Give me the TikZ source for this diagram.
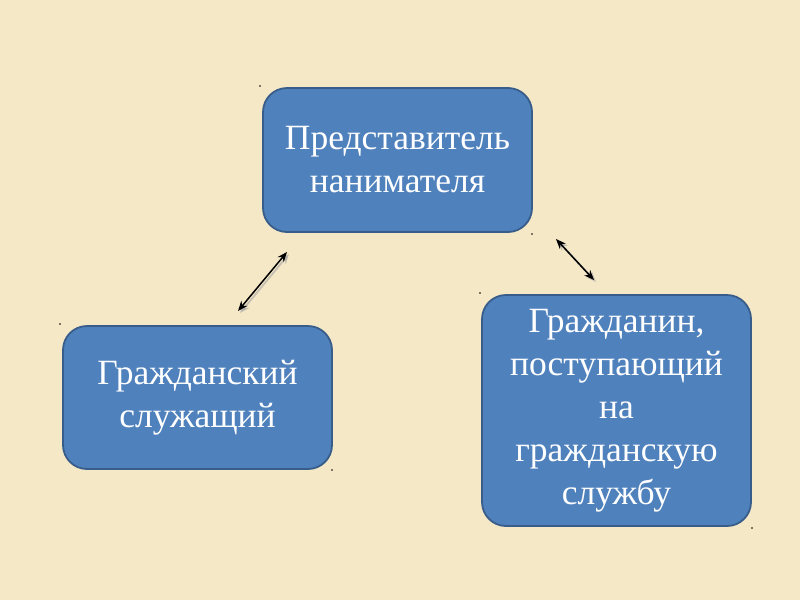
\documentclass[tikz,border=0pt]{standalone}
\usepackage{fontspec}
\setmainfont{Liberation Serif}
\usetikzlibrary{arrows.meta}
\definecolor{bg}{HTML}{F5E8C6}
\definecolor{boxfill}{HTML}{4F81BD}
\definecolor{boxline}{HTML}{385D8A}
\tikzset{
  box/.style={draw=boxline, line width=1.8pt, fill=boxfill, rounded corners=24pt,
    text=white, align=center, font=\fontsize{35.5}{43}\selectfont, inner sep=0pt},
  dbl/.style={{Stealth[length=10pt,width=8pt]}-{Stealth[length=10pt,width=8pt]}, line width=1.5pt, black},
  dblsh/.style={{Stealth[length=10pt,width=8pt]}-{Stealth[length=10pt,width=8pt]}, line width=1.8pt, black!35, opacity=0.6},
  handle/.style={fill=black, circle, inner sep=0pt, minimum size=1.6pt}
}
\begin{document}
\begin{tikzpicture}[x=1pt,y=-1pt]
\fill[bg] (0,0) rectangle (800,600);
\useasboundingbox (0,0) rectangle (800,600);
\node[box, minimum width=269pt, minimum height=144pt] (t) at (397.5,160) {Представитель\\нанимателя};
\node[box, minimum width=269pt, minimum height=143pt] (l) at (197.5,397.5) {Гражданский\\служащий};
\node[box, minimum width=269pt, minimum height=231pt] (r) at (616.5,410.5) {Гражданин,\\поступающий\\на\\гражданскую\\службу};
% corner handles
\node[handle] (h1) at (260,86) {};
\node[handle] (h2) at (532,234) {};
\node[handle] (h3) at (60,324) {};
\node[handle] (h4) at (332,470) {};
\node[handle] (h5) at (480,293) {};
\node[handle] (h6) at (752,528) {};
% arrows
\coordinate (a1) at (238,311);
\coordinate (a2) at (287,252);
\coordinate (b1) at (556,239);
\coordinate (b2) at (594,280);
\coordinate (a1s) at (240,313);
\coordinate (a2s) at (289,254);
\coordinate (b1s) at (558,241);
\coordinate (b2s) at (596,282);
\draw[dblsh] (a1s) -- (a2s);
\draw[dblsh] (b1s) -- (b2s);
\draw[dbl] (a1) -- (a2);
\draw[dbl] (b1) -- (b2);
\end{tikzpicture}
\end{document}
